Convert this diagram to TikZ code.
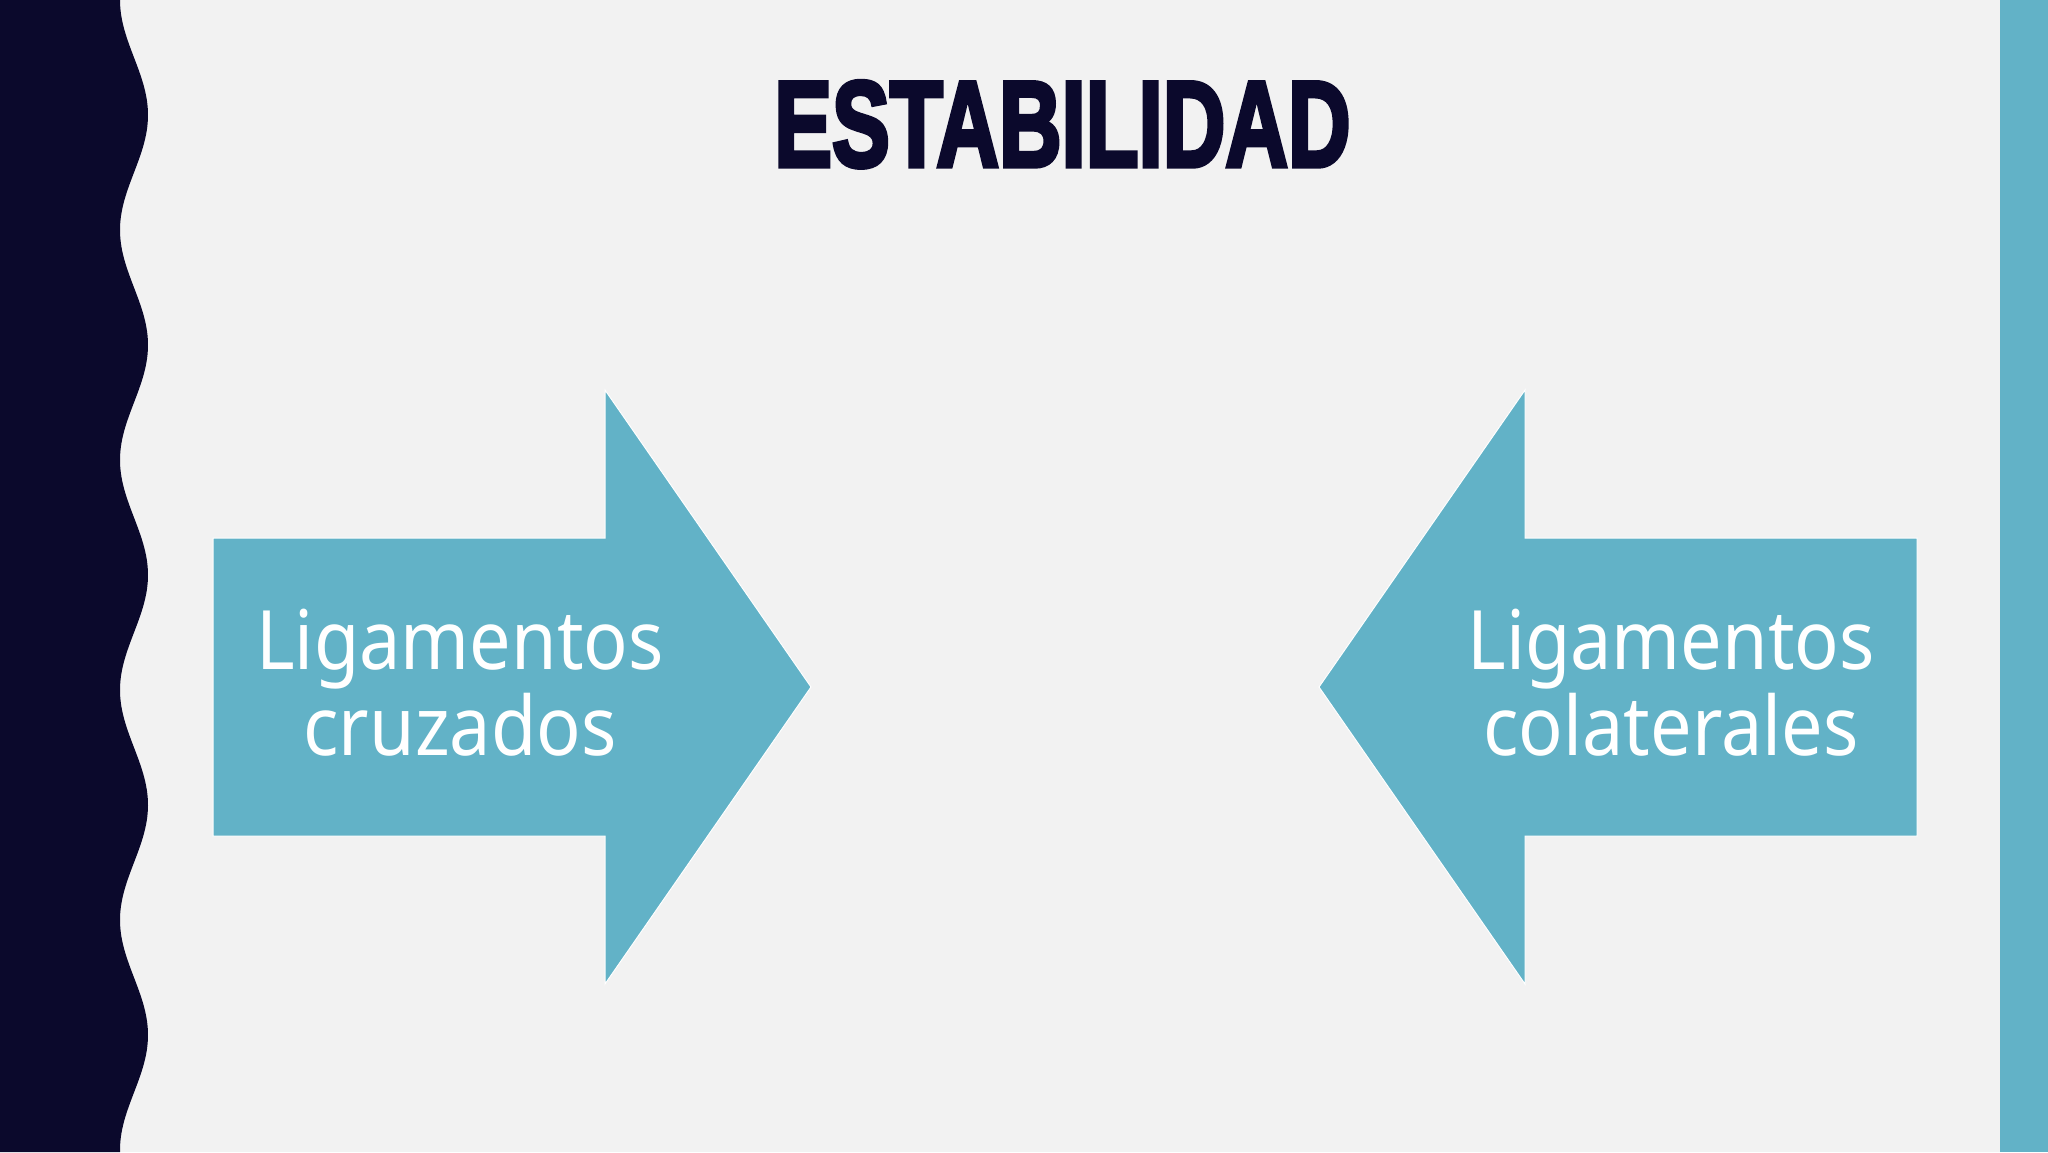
\documentclass[tikz,border=0pt]{standalone}
\usepackage{fontspec}
\setmainfont[FakeStretch=0.9]{Noto Sans}
\newfontfamily\titlefont[FakeBold=4]{Liberation Sans Bold}
\definecolor{bgc}{HTML}{F2F2F2}
\definecolor{navy}{HTML}{0B092C}
\definecolor{teal}{HTML}{62B2C7}
\newcommand{\toprule}{\rule{0pt}{70pt}}
\tikzset{
  arrowshape/.style={fill=teal, draw=white, line width=1pt, line join=miter},
  label/.style={text=white, align=center, inner sep=0pt, anchor=north,
    font=\fontsize{82}{86}\selectfont}
}
\begin{document}
\begin{tikzpicture}[x=1pt,y=-1pt]
\fill[bgc] (0,0) rectangle (2048,1152);
\useasboundingbox (0,0) rectangle (2048,1152);
% left wavy band
\fill[navy] (0,0) -- plot[domain=0:1152, samples=300, smooth] ({134-14*cos((\x/230)*360)}, \x) -- (0,1152) -- cycle;
% right band
\fill[teal] (2000,0) rectangle (2048,1152);
% title
\node[inner sep=0pt, anchor=north west, text=navy] (title) at (774,81)
  {\resizebox{576pt}{85pt}{\titlefont ESTABILIDAD}};
% arrows
\path[arrowshape] (213,538) -- (605,538) -- (605,390) -- (811,687) -- (605,984) -- (605,836) -- (213,836) -- cycle;
\path[arrowshape] (1917,538) -- (1525,538) -- (1525,390) -- (1319,687) -- (1525,984) -- (1525,836) -- (1917,836) -- cycle;
% labels
\node[label] (cruz) at (460,599) {\toprule Ligamentos\\cruzados};
\node[label] (colat) at (1671,599) {\toprule Ligamentos\\colaterales};
\end{tikzpicture}
\end{document}
